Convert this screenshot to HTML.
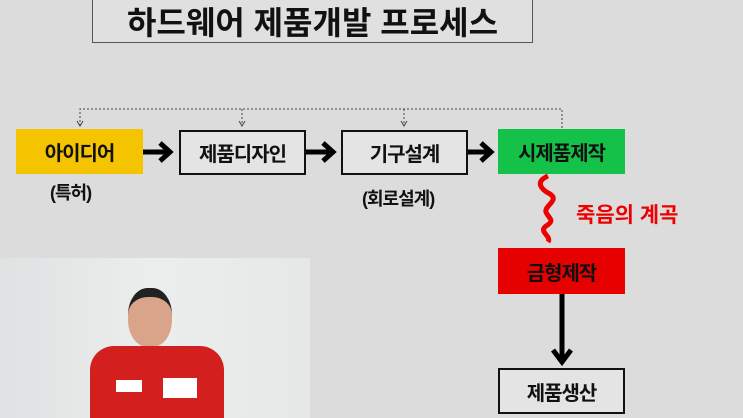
<!DOCTYPE html>
<html><head><meta charset="utf-8"><style>
html,body{margin:0;width:743px;height:418px;overflow:hidden}
body{background:#dcdcdc;position:relative;font-family:"Liberation Sans","Noto Sans CJK KR","NanumGothic",sans-serif;font-weight:bold;color:#111}
.b{position:absolute;box-sizing:border-box;display:flex;align-items:center;justify-content:center;font-size:20px;letter-spacing:-1px}
.t{position:absolute;font-size:18px;letter-spacing:-1px}
</style></head><body>
<div class="b" style="left:92px;top:-2px;width:441px;height:45px;border:1px solid #555;background:#e0e0e0;font-size:32px;letter-spacing:0">하드웨어 제품개발 프로세스</div>
<svg width="743" height="418" style="position:absolute;left:0;top:0">
<g stroke="#444" stroke-width="1" stroke-dasharray="2,2" fill="none">
<path d="M80 126V109H562V129M242 109V126M404 109V126"/>
</g>
<g stroke="#444" fill="none" stroke-width="1"><path d="M77 121l3 5 3-5M239 121l3 5 3-5M401 121l3 5 3-5"/></g>
<g stroke="#000" stroke-width="5" fill="none">
<path d="M143 152H170M160 143l10 9-10 9M305 152H333M323 143l10 9-10 9M468 152H491M481 143l10 9-10 9"/>
<path d="M562 294V362M553 350l9 12 9-12"/>
</g>
<path d="M548 176c-14 6 -6 14 2 18c10 6 -6 12 -4 18c2 6 10 8 0 14c-8 6 6 10 2 16" stroke="#e00" stroke-width="5" fill="none"/>
</svg>
<div class="b" style="left:16px;top:129px;width:127px;height:45px;background:#f5c400">아이디어</div>
<div class="b" style="left:179px;top:130px;width:127px;height:45px;border:2px solid #111;background:#e4e4e4">제품디자인</div>
<div class="b" style="left:341px;top:130px;width:127px;height:45px;border:2px solid #111;background:#e4e4e4">기구설계</div>
<div class="b" style="left:498px;top:129px;width:127px;height:45px;background:#14c24a">시제품제작</div>
<div class="b" style="left:498px;top:248px;width:127px;height:46px;background:#e60000">금형제작</div>
<div class="b" style="left:498px;top:368px;width:127px;height:46px;border:2px solid #111;background:#e4e4e4">제품생산</div>
<div class="t" style="left:50px;top:179px">(특허)</div>
<div class="t" style="left:362px;top:185px">(회로설계)</div>
<div class="t" style="left:576px;top:199px;color:#e00;font-size:21px;letter-spacing:0">죽음의 계곡</div>
<div style="position:absolute;left:0;top:258px;width:310px;height:160px;overflow:hidden;background:linear-gradient(90deg,#dfe2e2,#eceeee 50%,#e6e8e8)">
<div style="position:absolute;left:128px;top:30px;width:44px;height:50px;background:#d9a48a;border-radius:45%;border-top:9px solid #222"></div>
<div style="position:absolute;left:90px;top:88px;width:134px;height:80px;background:#d41f1f;border-radius:24px 24px 0 0"></div>
<div style="position:absolute;left:116px;top:122px;width:26px;height:12px;background:#fff"></div>
<div style="position:absolute;left:163px;top:120px;width:34px;height:20px;background:#fff"></div>
</div>
</body></html>
